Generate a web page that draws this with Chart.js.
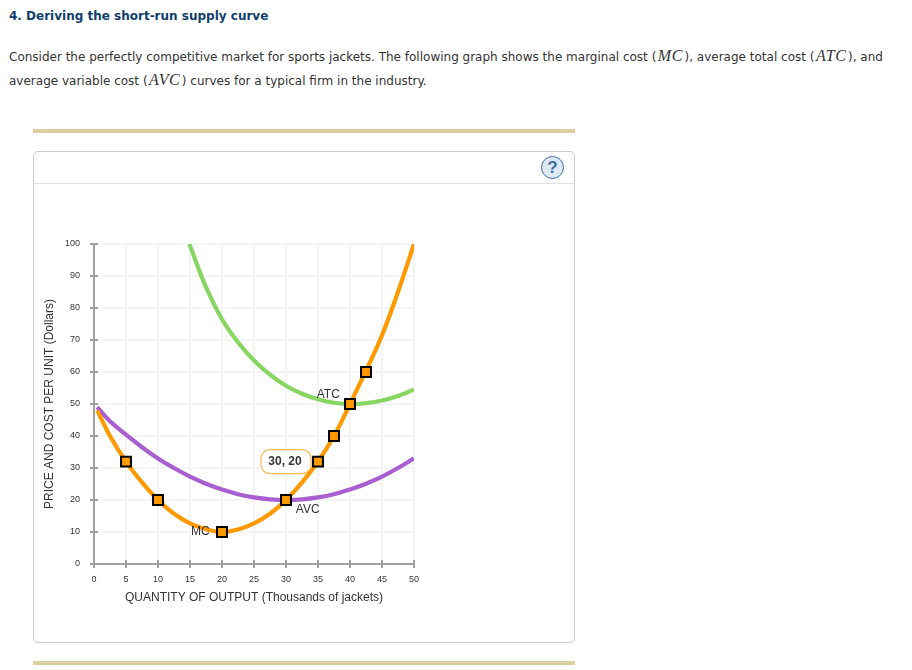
<!DOCTYPE html>
<html>
<head>
<meta charset="utf-8">
<script src="https://cdn.jsdelivr.net/npm/chart.js@4"></script>
<style>
    html, body { margin: 0; padding: 0; background: #fff; width: 912px; height: 670px; overflow: hidden; }
    body { position: relative; font-family: "DejaVu Sans", sans-serif; color: #333; }
    .title { position: absolute; left: 9px; top: 9px; font-size: 12px; font-weight: bold; color: #0f3e6b; white-space: nowrap; }
    .line { position: absolute; left: 9px; font-size: 12px; white-space: nowrap; }
    .line i { font-family: "Liberation Serif", serif; font-size: 16px; letter-spacing: 0.6px; margin: 0 1.5px; line-height: 14px; }
    .rule { position: absolute; left: 33px; width: 542px; height: 4px; background: #dccf9f; }
    .panel { position: absolute; left: 33px; top: 151px; width: 540px; height: 490px; border: 1px solid #ccc; border-radius: 5px; }
    .panel-head { position: absolute; left: 0; right: 0; top: 31px; border-top: 1px solid #e2e2e2; }
    .help { position: absolute; left: 507px; top: 4px; width: 21px; height: 21px; border: 1.5px solid #3f6f9f; border-radius: 50%;
            background: #dce8f2; color: #3f6f9f; font: bold 17px/21px "Liberation Sans", sans-serif; text-align: center; }
    #wrap { position: absolute; left: 34px; top: 184px; width: 540px; height: 458px; }
</style>
</head>
<body>
<div class="title">4. Deriving the short-run supply curve</div>
<div class="line" style="top:49px">Consider the perfectly competitive market for sports jackets. The following graph shows the marginal cost (<i>MC</i>), average total cost (<i>ATC</i>), and</div>
<div class="line" style="top:73px">average variable cost (<i>AVC</i>) curves for a typical firm in the industry.</div>
<div class="rule" style="top:129px"></div>
<div class="panel"><div class="panel-head"></div><div class="help">?</div></div>
<div class="rule" style="top:661px"></div>
<div id="wrap"><canvas id="chart"></canvas></div>

<script>
// Curves: quantity (thousands) and dollars per unit.
const mcX = [0.5, 2.5, 5, 7.5, 10, 12.5, 15, 17.5, 20, 22.5, 25, 27.5, 30, 32.5, 35, 37.5, 40, 42.5, 45, 47.5, 50];
const mcY = [48, 40, 32, 25.5, 20, 15.7, 12.7, 10.9, 10, 10.8, 12.7, 15.7, 20, 25.5, 32, 40, 50, 60.4, 71.5, 85, 100];

const atcX = [14.9, 17.5, 20, 22.5, 25, 27.5, 30, 32.5, 35, 37.5, 40, 42.5, 45, 47.5, 50];
const atcY = [100, 86.5, 76.5, 69.3, 63.6, 59.2, 55.7, 53.2, 51.5, 50.4, 50, 50.3, 51.1, 52.5, 54.5];

const avcX = [0.5, 2.5, 5, 7.5, 10, 12.5, 15, 17.5, 20, 22.5, 25, 27.5, 30, 32.5, 35, 37.5, 40, 42.5, 45, 47.5, 50];
const avcY = [49, 44.6, 40.4, 36.5, 33, 30, 27.3, 25.1, 23.3, 21.8, 20.8, 20.2, 20, 20.2, 20.8, 21.8, 23.3, 25.1, 27.3, 30, 33];

// Square handles sitting on the MC curve.
const handleX = [5, 10, 20, 30, 35, 37.5, 40, 42.5];
const handleY = [32, 20, 10, 20, 32, 40, 50, 60];

const curveNames = ["MC", "AVC", "ATC"];
const curveNameX = [16.6, 33.4, 36.6];
const curveNameY = [10, 17, 53];

const xTicks = [0, 5, 10, 15, 20, 25, 30, 35, 40, 45, 50];
const yTicks = [0, 10, 20, 30, 40, 50, 60, 70, 80, 90, 100];

const calloutText = "30, 20";

const COLORS = {
    mc: "#ff9900",
    atc: "#88d662",
    avc: "#a95fd0",
    grid: "#f4f4f4",
    axis: "#a0a0a0",
    text: "#333333"
};

function toPoints(xs, ys) {
    return xs.map((x, i) => ({ x, y: ys[i] }));
}

function curve(xs, ys, color, order) {
    return {
        data: toPoints(xs, ys),
        order,
        borderColor: color,
        borderWidth: 4.2,
        pointRadius: 0,
        tension: 0.4,
        showLine: true
    };
}

// Tick marks cross the axis line, and the curve names + callout sit on the plot.
const overlayPlugin = {
    id: "overlay",
    afterDatasetsDraw(chart) {
        const { ctx, scales: { x, y } } = chart;
        ctx.save();
        ctx.strokeStyle = COLORS.axis;
        ctx.lineWidth = 2;
        ctx.beginPath();
        yTicks.forEach(v => {
            ctx.moveTo(x.left - 4, y.getPixelForValue(v));
            ctx.lineTo(x.left + 4, y.getPixelForValue(v));
        });
        xTicks.forEach(v => {
            ctx.moveTo(x.getPixelForValue(v), y.bottom - 4);
            ctx.lineTo(x.getPixelForValue(v), y.bottom + 4);
        });
        ctx.stroke();

        ctx.fillStyle = COLORS.text;
        ctx.font = '12px "Liberation Sans"';
        ctx.textAlign = "center";
        ctx.textBaseline = "middle";
        curveNames.forEach((name, i) => {
            ctx.fillText(name, x.getPixelForValue(curveNameX[i]), y.getPixelForValue(curveNameY[i]));
        });

        // callout is anchored to the left of the handle at (35, 32)
        const right = x.getPixelForValue(35) - 7;
        const midY = y.getPixelForValue(32);
        ctx.beginPath();
        ctx.roundRect(right - 50, midY - 12, 50, 24, 9);
        ctx.fillStyle = "#fff";
        ctx.fill();
        ctx.strokeStyle = "#fbb95a";
        ctx.lineWidth = 1.2;
        ctx.stroke();
        ctx.fillStyle = COLORS.text;
        ctx.font = 'bold 12px "Liberation Sans"';
        ctx.fillText(calloutText, right - 26, midY);
        ctx.restore();
    }
};

new Chart(document.getElementById("chart"), {
    type: "scatter",
    data: {
        datasets: [
            curve(atcX, atcY, COLORS.atc, 3),
            curve(avcX, avcY, COLORS.avc, 2),
            curve(mcX, mcY, COLORS.mc, 1),
            {
                data: toPoints(handleX, handleY),
                order: 0,
                showLine: false,
                pointStyle: "rect",
                pointRadius: 7,
                pointBackgroundColor: COLORS.mc,
                pointBorderColor: "#000",
                pointBorderWidth: 2
            }
        ]
    },
    options: {
        responsive: true,
        maintainAspectRatio: false,
        animation: false,
        events: [],
        layout: { padding: { left: 0, top: 60, right: 160, bottom: 0 } },
        plugins: { legend: { display: false }, tooltip: { enabled: false } },
        scales: {
            x: {
                type: "linear",
                min: 0,
                max: 50,
                afterFit: s => { s.height = 78; },
                afterBuildTicks: s => { s.ticks = xTicks.map(value => ({ value })); },
                grid: { color: COLORS.grid, lineWidth: 2, drawTicks: false },
                border: { color: COLORS.axis, width: 2 },
                ticks: {
                    color: COLORS.text,
                    font: { family: "Liberation Sans", size: 9 },
                    maxRotation: 0,
                    padding: 10
                },
                title: {
                    display: true,
                    text: "QUANTITY OF OUTPUT (Thousands of jackets)",
                    color: COLORS.text,
                    font: { family: "Liberation Sans", size: 12 },
                    padding: { top: 0, bottom: 37 }
                }
            },
            y: {
                min: 0,
                max: 100,
                afterFit: s => { s.width = 60; },
                afterBuildTicks: s => { s.ticks = yTicks.map(value => ({ value })); },
                grid: { color: COLORS.grid, lineWidth: 2, drawTicks: false },
                border: { color: COLORS.axis, width: 2 },
                ticks: {
                    color: COLORS.text,
                    font: { family: "Liberation Sans", size: 9 },
                    padding: 14
                },
                title: {
                    display: true,
                    text: "PRICE AND COST PER UNIT (Dollars)",
                    color: COLORS.text,
                    font: { family: "Liberation Sans", size: 12 },
                    padding: { top: 8, bottom: 0 }
                }
            }
        }
    },
    plugins: [overlayPlugin]
});
</script>
</body>
</html>
